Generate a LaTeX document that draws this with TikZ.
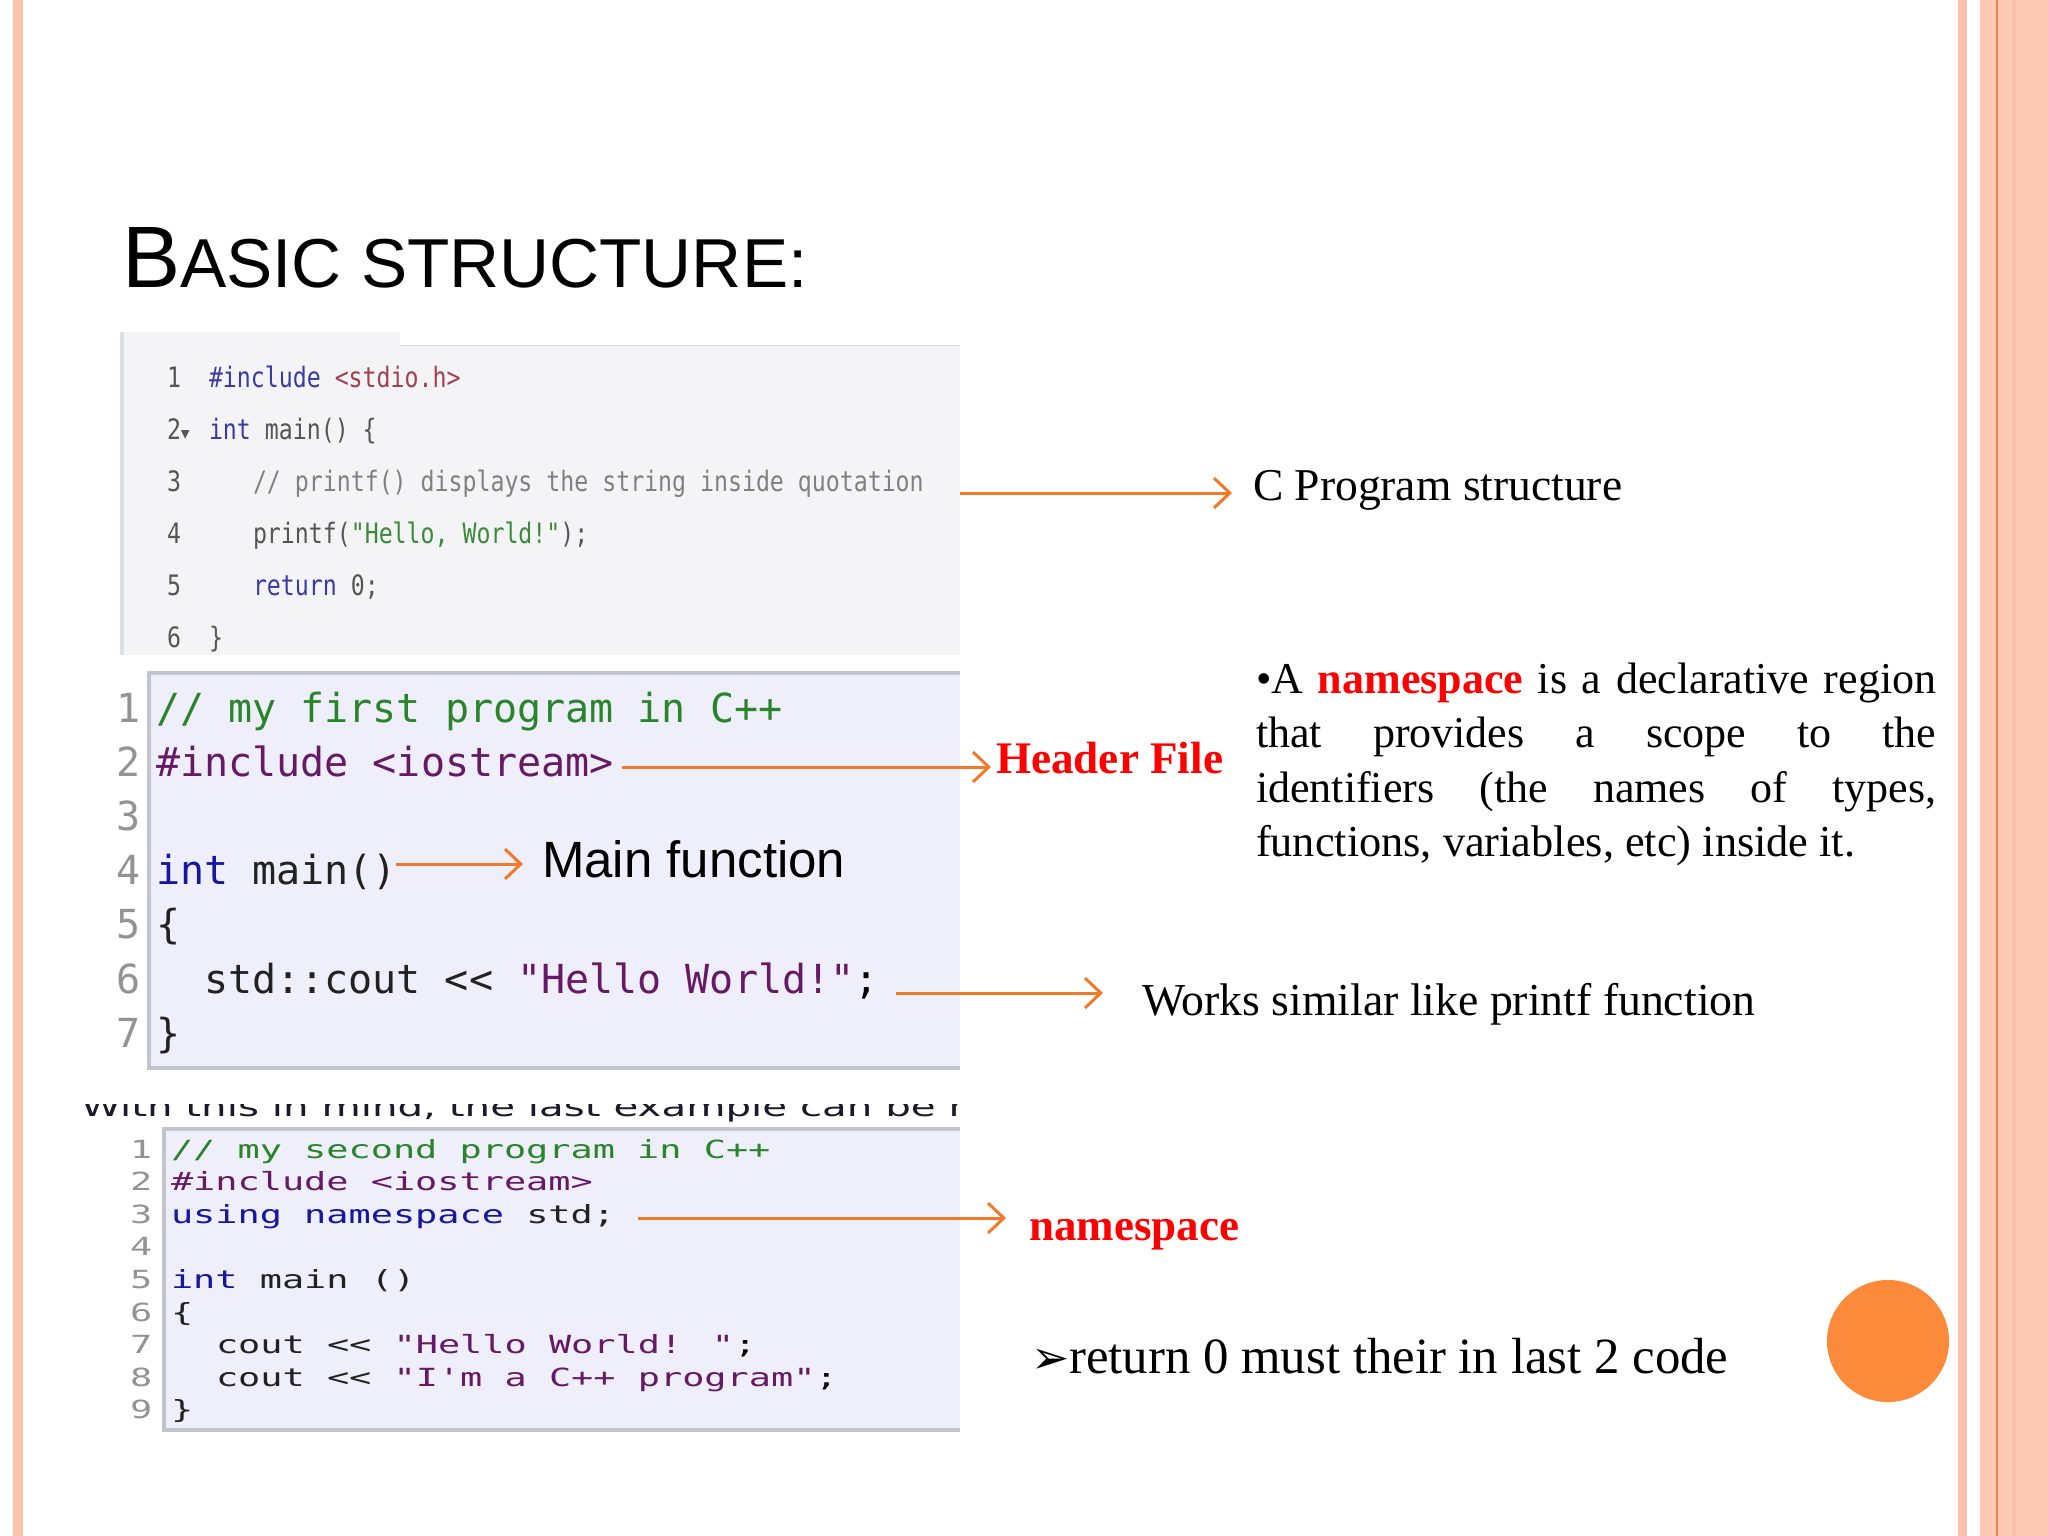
\documentclass[tikz,border=0pt]{standalone}
\usepackage{fontspec}
\setmainfont{Liberation Serif}
\newfontfamily\sansf{Liberation Sans}
\newfontfamily\codeA[FakeStretch=0.825,Ligatures=TeXOff]{DejaVu Sans Mono}
\newfontfamily\codeB[Ligatures=TeXOff]{DejaVu Sans Mono}
\newfontfamily\codeC[FakeStretch=1.475,Ligatures=TeXOff]{DejaVu Sans Mono}
\newfontfamily\cutf[FakeStretch=1.49]{DejaVu Sans}
\newfontfamily\dejavu{DejaVu Sans}
\usetikzlibrary{arrows.meta}
\definecolor{arrowc}{HTML}{F07A28}
\definecolor{salmon}{HTML}{FCC9B3}
\definecolor{stripe}{HTML}{FCC3AD}
\definecolor{salmond}{HTML}{F8C0A8}
\definecolor{oline}{HTML}{EE8548}
\definecolor{boxAbg}{HTML}{F4F4F6}
\definecolor{boxAln}{HTML}{DCE2E2}
\definecolor{boxbg}{HTML}{EFEFFB}
\definecolor{boxbd}{HTML}{C4C4CC}
\definecolor{cgreen}{HTML}{2A842A}
\definecolor{cpurple}{HTML}{661A66}
\definecolor{cblue}{HTML}{1616A0}
\definecolor{cdark}{HTML}{222222}
\definecolor{lnum}{HTML}{939393}
\definecolor{aGrey}{HTML}{555555}
\definecolor{aBlue}{HTML}{3A3AA5}
\definecolor{aGreen}{HTML}{3A8A3A}
\definecolor{aRed}{HTML}{A04050}
\definecolor{aCom}{HTML}{808080}
\definecolor{nsred}{HTML}{FF0000}
\definecolor{circc}{HTML}{FB8B3B}
\definecolor{cutc}{HTML}{1A1A2A}
\newcommand{\fsz}[1]{\fontsize{#1}{#1}\selectfont}
\begin{document}
\begin{tikzpicture}[x=0.01cm,y=-0.01cm,
  txt/.style={inner sep=0pt,outer sep=0pt,anchor=base west},
  cA/.style={txt,font=\codeA\fsz{8pt}},
  cB/.style={txt,font=\codeB\fsz{11.38pt}},
  cC/.style={txt,font=\codeC\fsz{7.11pt}},
  arr/.style={draw=arrowc,line width=0.85pt,-{Straight Barb[length=4.5pt,width=8.5pt]}}]
\useasboundingbox (0,0) rectangle (2048,1536);
\fill[white] (0,0) rectangle (2048,1536);
% page stripes
\fill[stripe] (13,0) rectangle (23,1536);
\fill[stripe] (1958,0) rectangle (1967,1536);
\fill[salmon] (1980,0) rectangle (2048,1536);
\fill[salmond] (2012,0) rectangle (2016,1536);
\fill[oline] (1996,0) rectangle (1998,1536);
% title
\node[txt] (title) at (122,287) {\sansf\fsz{24.8pt}B\fsz{19.7pt}ASIC STRUCTURE:};
% ---------- box 1 ----------
\fill[boxAbg] (121,332) rectangle (960,655);
\fill[white] (400,332) rectangle (960,345);
\draw[draw=black!12,line width=0.4pt] (400,345.5) -- (960,345.5);
\fill[boxAln] (120,332) rectangle (124,655);
\node[cA,text=aGrey] (a1n) at (167,387) {1};
\node[cA,text=aGrey] (a2n) at (167,439) {2{\dejavu\fsz{5pt}▾}};
\node[cA,text=aGrey] (a3n) at (167,491) {3};
\node[cA,text=aGrey] (a4n) at (167,543) {4};
\node[cA,text=aGrey] (a5n) at (167,595) {5};
\node[cA,text=aGrey] (a6n) at (167,647) {6};
\node[cA] (a1) at (209,387) {\textcolor{aBlue}{\#include} \textcolor{aRed}{<stdio.h>}};
\node[cA] (a2) at (209,439) {\textcolor{aBlue}{int} \textcolor{aGrey}{main() \{}};
\node[cA,text=aCom] (a3) at (253,491) {// printf() displays the string inside quotation};
\node[cA] (a4) at (253,543) {\textcolor{aGrey}{printf(}\textcolor{aGreen}{"Hello, World!"}\textcolor{aGrey}{);}};
\node[cA] (a5) at (253,595) {\textcolor{aBlue}{return} \textcolor{aGrey}{0;}};
\node[cA,text=aGrey] (a6) at (209,647) {\}};
% ---------- box 2 ----------
\fill[boxbg] (149,673) rectangle (960,1068);
\draw[boxbd,line width=0.9pt] (960,673) -- (149,673) -- (149,1068) -- (960,1068);
\foreach \i/\y in {1/722,2/776,3/830,4/884.5,5/938.7,6/993,7/1047}
  \node[cB,text=lnum] (b\i n) at (116,\y) {\i};
\node[cB,text=cgreen] (b1) at (156,722) {// my first program in C++};
\node[cB,text=cpurple] (b2) at (156,776) {\#include <iostream>};
\node[cB] (b4) at (156,884.5) {\textcolor{cblue}{int} \textcolor{cdark}{main()}};
\node[cB,text=cdark] (b5) at (156,938.7) {\{};
\node[cB] (b6) at (204,993) {\textcolor{cdark}{std::cout <<} \textcolor{cpurple}{"Hello World!"}\textcolor{black}{;}};
\node[cB,text=cdark] (b7) at (156,1047) {\}};
% ---------- cut-off text ----------
\begin{scope}
\clip (60,1104) rectangle (961,1126);
\node[txt,text=cutc] (cut) at (81,1116) {\cutf\fsz{7.7pt}With this in mind, the last example can be rewritten};
\end{scope}
% ---------- box 3 ----------
\fill[boxbg] (164,1129) rectangle (960,1430);
\draw[boxbd,line width=0.9pt] (960,1129) -- (164,1129) -- (164,1430) -- (960,1430);
\foreach \i/\y in {1/1158,2/1190.6,3/1223.2,4/1255.8,5/1288.4,6/1321,7/1353.6,8/1386.2,9/1418.8}
  \node[cC,text=lnum] (c\i n) at (130,\y) {\i};
\node[cC,text=cgreen] (c1) at (171,1158) {// my second program in C++};
\node[cC,text=cpurple] (c2) at (171,1190.6) {\#include <iostream>};
\node[cC] (c3) at (171,1223.2) {\textcolor{cblue}{using namespace} \textcolor{cdark}{std;}};
\node[cC] (c5) at (171,1288.4) {\textcolor{cblue}{int} \textcolor{cdark}{main ()}};
\node[cC,text=cdark] (c6) at (171,1321) {\{};
\node[cC] (c7) at (216,1353.6) {\textcolor{cdark}{cout <<} \textcolor{cpurple}{"Hello World! "}\textcolor{black}{;}};
\node[cC] (c8) at (216,1386.2) {\textcolor{cdark}{cout <<} \textcolor{cpurple}{"I\symbol{39}m a C++ program"}\textcolor{black}{;}};
\node[cC,text=cdark] (c9) at (171,1418.8) {\}};
% ---------- labels ----------
\node[txt] (mainf) at (542,877) {\sansf\fsz{14.5pt}Main function};
\node[txt] (hdr) at (996,773) {\fsz{12.85pt}\bfseries\color{nsred}Header File};
\node[txt] (cprog) at (1253,500) {\fsz{12.95pt}C Program structure};
\node[txt] (p1) at (1256,693) {\fsz{12.52pt}\makebox[6.8cm][s]{•A \textbf{\color{nsred}namespace} is a declarative region}};
\node[txt] (p2) at (1256,747.5) {\fsz{12.52pt}\makebox[6.8cm][s]{that provides a scope to the}};
\node[txt] (p3) at (1256,802) {\fsz{12.52pt}\makebox[6.8cm][s]{identifiers (the names of types,}};
\node[txt] (p4) at (1256,856.5) {\fsz{12.6pt}functions, variables, etc) inside it.};
\node[txt] (works) at (1142,1015) {\fsz{13pt}Works similar like printf function};
\node[txt] (ns) at (1029,1240) {\fsz{12.8pt}\bfseries\color{nsred}namespace};
\node[txt] (ret) at (1031,1373) {{\dejavu\fsz{13pt}➢}\fsz{14.45pt}return 0 must their in last 2 code};
\node[circle,fill=circc,inner sep=0pt,minimum size=1.22cm] (dot) at (1888,1341) {};
% ---------- arrows ----------
\coordinate (s1) at (960,493);  \coordinate (e1) at (1232,493);
\coordinate (s2) at (622,767);  \coordinate (e2) at (991,767);
\coordinate (s3) at (396,864);  \coordinate (e3) at (523,864);
\coordinate (s4) at (896,993);  \coordinate (e4) at (1103,993);
\coordinate (s5) at (638,1218); \coordinate (e5) at (1006,1218);
\draw[arr] (s1) -- (e1);
\draw[arr] (s2) -- (e2);
\draw[arr] (s3) -- (e3);
\draw[arr] (s4) -- (e4);
\draw[arr] (s5) -- (e5);
\end{tikzpicture}
\end{document}
